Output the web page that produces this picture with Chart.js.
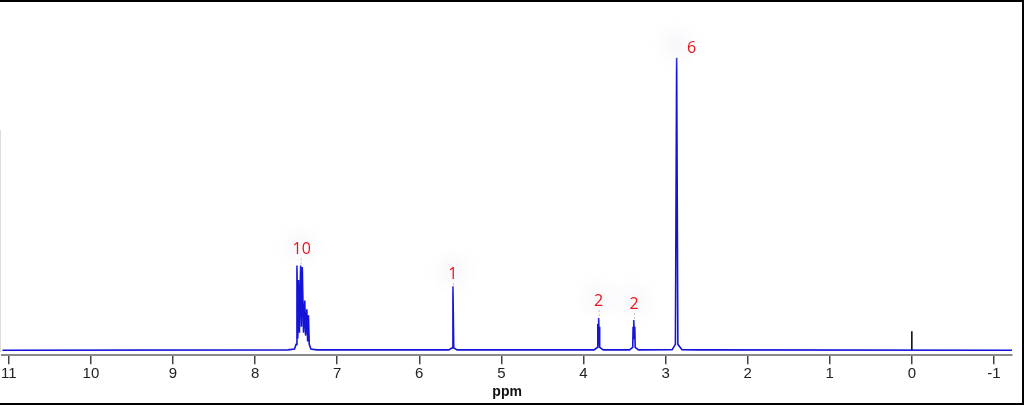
<!DOCTYPE html>
<html>
<head>
<meta charset="utf-8">
<script src="https://cdn.jsdelivr.net/npm/chart.js@4"></script>
<style>
  html, body { margin: 0; padding: 0; background: #fff; }
  #wrap { position: relative; width: 1024px; height: 405px; overflow: hidden; }
  #frame { position: absolute; left: 0; top: 0; width: 1024px; height: 405px; box-sizing: border-box;
           border-top: 2px solid #000; border-bottom: 2px solid #000; border-right: 2px solid #000;
           pointer-events: none; }
  #leftMark { position: absolute; left: 0; top: 130px; width: 1px; height: 222px; background: #ddd; }
</style>
</head>
<body>
<div id="wrap">
  <canvas id="grafico" width="1024" height="405"></canvas>
  <div id="leftMark"></div>
  <div id="frame"></div>
</div>
<script>
// spectrum (ppm, relative intensity)
const specPpm = [11.08, 7.60, 7.52, 7.50, 7.49, 7.48, 7.47, 7.46, 7.445, 7.435, 7.425, 7.41, 7.395, 7.385, 7.37, 7.36, 7.35, 7.34, 7.32, 7.25,
                 5.64, 5.60, 5.59, 5.58, 5.54,
                 3.87, 3.83, 3.825, 3.82, 3.815, 3.81, 3.805, 3.80, 3.76,
                 3.44, 3.40, 3.395, 3.39, 3.385, 3.38, 3.375, 3.37, 3.33,
                 2.92, 2.88, 2.865, 2.85, 2.80, 2.60, -1.22];
const specInt = [0, 0.1, 0.4, 2, 29, 4, 24, 6, 29, 8, 28.5, 6, 17, 5, 14, 3, 12, 2, 0.4, 0.1,
                 0.1, 0.8, 21.9, 0.8, 0.1,
                 0.1, 1, 9, 4, 11, 4, 8, 1, 0.1,
                 0.1, 1, 8, 4, 10.3, 4, 8, 1, 0.1,
                 0.2, 2, 100, 2, 0.2, 0.1, 0];

// reference peak (TMS)
const refPpm = [0.0, 0.0];
const refInt = [0, 6.5];

// integration labels
const intText = ["10", "1", "2", "2", "6"];
const intPpm = [7.445, 5.59, 3.815, 3.385, 2.865];
const intTop = [29, 21.9, 11, 10.3, 100];

const xTicks = [11, 10, 9, 8, 7, 6, 5, 4, 3, 2, 1, 0, -1];

const toPts = (xs, ys) => xs.map((x, i) => ({ x: x, y: ys[i] }));

// label placement (pixel offsets from peak top)
const labelDx = [1, 0, 0, 0, 15];
const labelDy = [-16, -12, -17, -16, -10];

const integrals = {
    id: "integrals",
    afterDatasetsDraw(chart) {
        const ctx = chart.ctx;
        const xs = chart.scales.x, ys = chart.scales.y;
        ctx.save();
        intText.forEach((t, i) => {
            const px = xs.getPixelForValue(intPpm[i]);
            const py = ys.getPixelForValue(intTop[i]);
            const lx = px + labelDx[i];
            const ly = py + labelDy[i];
            // faint glow
            const g = ctx.createRadialGradient(px, ly - 3, 0, px, ly - 3, 26);
            g.addColorStop(0, "rgba(232,232,240,0.35)");
            g.addColorStop(1, "rgba(240,240,248,0)");
            ctx.fillStyle = g;
            ctx.beginPath();
            ctx.arc(px, ly - 3, 26, 0, Math.PI * 2);
            ctx.fill();
            // dashed connector
            ctx.strokeStyle = "rgba(170,170,170,0.7)";
            ctx.lineWidth = 1;
            ctx.setLineDash([2, 2]);
            ctx.beginPath();
            ctx.moveTo(px + 0.5, ly + 9);
            ctx.lineTo(px + 0.5, py);
            ctx.stroke();
            ctx.setLineDash([]);
            ctx.fillStyle = "#e8141c";
            ctx.font = "16px 'Open Sans', sans-serif";
            ctx.textAlign = "center";
            ctx.textBaseline = "middle";
            ctx.fillText(t, lx, ly);
        });
        ctx.restore();
    }
};

new Chart(document.getElementById("grafico"), {
    type: "line",
    data: {
        datasets: [
            {
                data: toPts(specPpm, specInt),
                borderColor: "#1414d8",
                borderWidth: 1.6,
                pointRadius: 0,
                tension: 0
            },
            {
                data: toPts(refPpm, refInt),
                borderColor: "#000",
                borderWidth: 1.5,
                pointRadius: 0
            }
        ]
    },
    options: {
        responsive: false,
        animation: false,
        layout: { padding: { left: 2, right: 12, top: 2, bottom: 2 } },
        plugins: { legend: { display: false }, tooltip: { enabled: false } },
        scales: {
            x: {
                type: "linear",
                reverse: true,
                min: -1.22,
                max: 11.08,
                afterBuildTicks: axis => { axis.ticks = xTicks.map(v => ({ value: v })); },
                border: { display: true, color: "#8a8a8a", width: 2 },
                grid: { drawOnChartArea: false, drawTicks: true, tickLength: 9, color: "#444", lineWidth: 1.5 },
                ticks: {
                    color: "#222",
                    font: { family: "'Liberation Sans', Arial, sans-serif", size: 15 },
                    padding: 1,
                    maxRotation: 0,
                    autoSkip: false
                },
                title: {
                    display: true,
                    text: "ppm",
                    color: "#111",
                    font: { family: "'Liberation Sans', Arial, sans-serif", size: 14, weight: "bold" },
                    padding: { top: 0, bottom: 2 }
                }
            },
            y: {
                display: false,
                min: -1.71,
                max: 119.2
            }
        }
    },
    plugins: [integrals]
});
</script>
</body>
</html>
